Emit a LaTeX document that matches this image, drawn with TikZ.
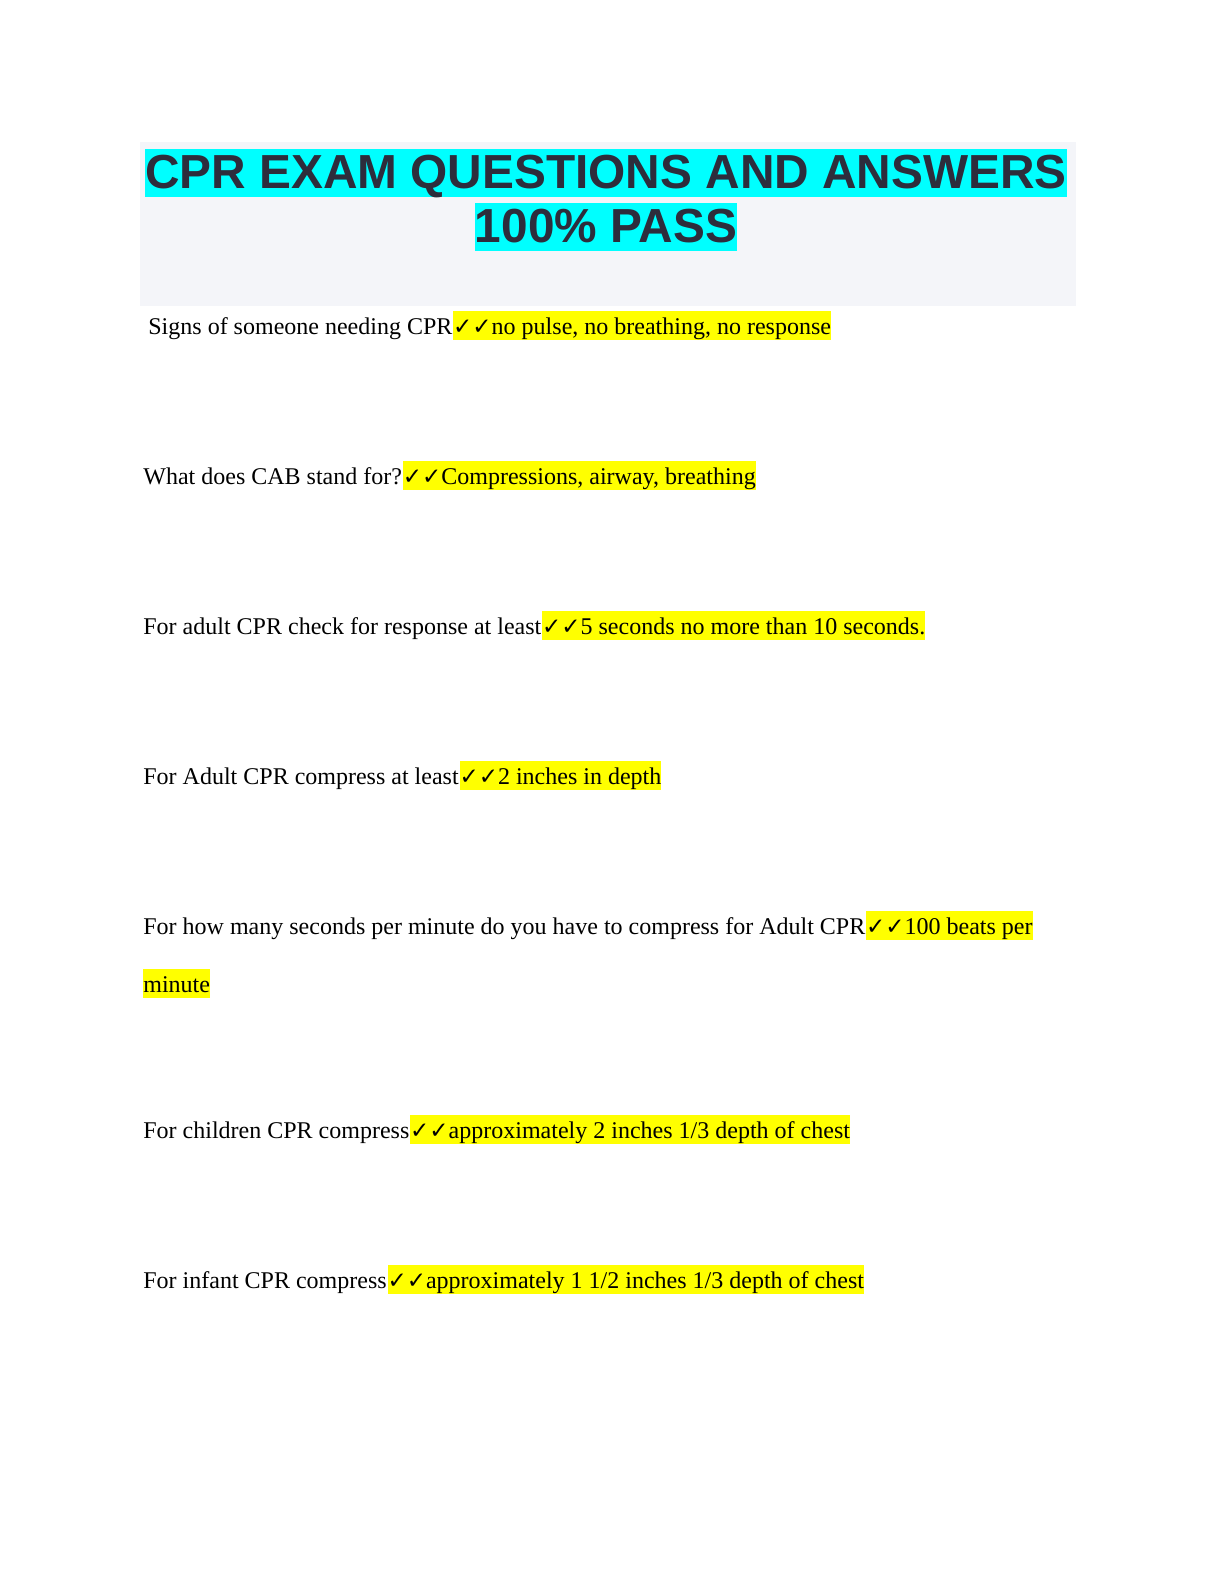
\documentclass[tikz,border=0pt]{standalone}
\usepackage{fontspec}
\setmainfont{Liberation Serif}
\newfontfamily\titlefont{Liberation Sans}
\newfontfamily\symfont{DejaVu Sans}
\usetikzlibrary{positioning}
\definecolor{titlebg}{RGB}{244,245,249}
\definecolor{titleink}{RGB}{45,45,60}
\definecolor{hlyellow}{RGB}{255,255,0}
\definecolor{hlcyan}{RGB}{0,255,255}
\newcommand{\ticks}{{\symfont\bfseries\fontsize{11.5pt}{13pt}\selectfont ✓✓}}
\begin{document}
\begin{tikzpicture}[x=0.5pt, y=-0.5pt,
    question/.style={anchor=base west, inner sep=0pt, font=\fontsize{12pt}{14pt}\selectfont},
    answer/.style={anchor=base west, inner xsep=0pt, inner ysep=0pt, fill=hlyellow,
                   text height=11.5pt, text depth=3pt, font=\fontsize{12pt}{14pt}\selectfont},
    heading/.style={anchor=base, fill=hlcyan, inner xsep=0pt, inner ysep=0pt,
                    text height=19.5pt, text depth=4.5pt, text=titleink,
                    font=\titlefont\bfseries\fontsize{23.9pt}{28pt}\selectfont}
]
    \useasboundingbox (0,0) rectangle (1224,1584);
    \fill[titlebg] (140,142) rectangle (1076,306);
    \node[heading] (title1) at (606,188) {CPR EXAM QUESTIONS AND ANSWERS};
    \node[heading] (title2) at (606,242) {100\% PASS};

    \node[question] (q1) at (148,334) {Signs of someone needing CPR\hspace{3pt}};
    \node[answer] (a1) at (q1.base east) {\ticks no pulse, no breathing, no response};

    \node[question] (q2) at (143,484) {What does CAB stand for?\hspace{3pt}};
    \node[answer] (a2) at (q2.base east) {\ticks Compressions, airway, breathing};

    \node[question] (q3) at (143,634) {For adult CPR check for response at least\hspace{3pt}};
    \node[answer] (a3) at (q3.base east) {\ticks 5 seconds no more than 10 seconds.};

    \node[question] (q4) at (143,784) {For Adult CPR compress at least\hspace{3pt}};
    \node[answer] (a4) at (q4.base east) {\ticks 2 inches in depth};

    \node[question] (q5) at (143,934) {For how many seconds per minute do you have to compress for Adult CPR\hspace{3pt}};
    \node[answer] (a5) at (q5.base east) {\ticks 100 beats per};
    \node[answer] (a5b) at (143,992) {minute};

    \node[question] (q6) at (143,1138) {For children CPR compress\hspace{3pt}};
    \node[answer] (a6) at (q6.base east) {\ticks approximately 2 inches 1/3 depth of chest};

    \node[question] (q7) at (143,1288) {For infant CPR compress\hspace{3pt}};
    \node[answer] (a7) at (q7.base east) {\ticks approximately 1 1/2 inches 1/3 depth of chest};
\end{tikzpicture}
\end{document}
